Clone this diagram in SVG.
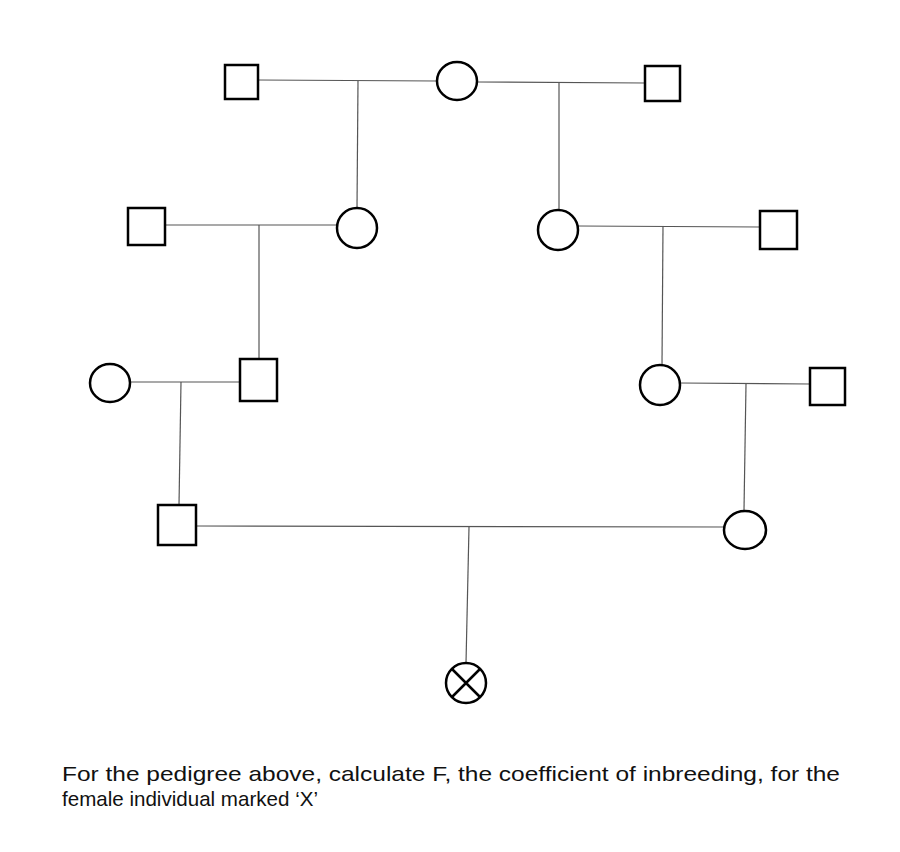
<svg xmlns="http://www.w3.org/2000/svg" width="900" height="852" viewBox="0 0 900 852">
<style>
.l{stroke:#555;stroke-width:1.2;fill:none}
.m{fill:#fff;stroke:#000;stroke-width:2.5}
.t{font-family:"Liberation Sans",Arial,sans-serif;font-size:21px;fill:#111}
</style>
<rect width="900" height="852" fill="#fff"/>
<g id="connectors">
<line class="l" x1="258" y1="80" x2="437" y2="81"/>
<line class="l" x1="477" y1="82" x2="645" y2="83"/>
<line class="l" x1="358" y1="81" x2="357" y2="208"/>
<line class="l" x1="559" y1="83" x2="559" y2="210"/>
<line class="l" x1="165" y1="225" x2="337" y2="225"/>
<line class="l" x1="578" y1="226" x2="760" y2="227"/>
<line class="l" x1="259" y1="225" x2="259" y2="358"/>
<line class="l" x1="663" y1="226" x2="662" y2="365"/>
<line class="l" x1="130" y1="382" x2="240" y2="382"/>
<line class="l" x1="680" y1="383" x2="810" y2="384"/>
<line class="l" x1="181" y1="382" x2="179" y2="505"/>
<line class="l" x1="746" y1="384" x2="744" y2="510"/>
<line class="l" x1="196" y1="526" x2="725" y2="527"/>
<line class="l" x1="469" y1="527" x2="466" y2="663"/>
</g>
<g id="n1"><rect class="m" x="225" y="65" width="33" height="34"/></g>
<g id="n2"><ellipse class="m" cx="457" cy="81" rx="20" ry="19"/></g>
<g id="n3"><rect class="m" x="645" y="66" width="35" height="35"/></g>
<g id="n4"><rect class="m" x="128" y="208" width="37" height="37"/></g>
<g id="n5"><ellipse class="m" cx="357" cy="228" rx="20" ry="20"/></g>
<g id="n6"><ellipse class="m" cx="558" cy="230" rx="20" ry="20"/></g>
<g id="n7"><rect class="m" x="760" y="211" width="37" height="38"/></g>
<g id="n8"><ellipse class="m" cx="110" cy="383" rx="20" ry="19"/></g>
<g id="n9"><rect class="m" x="240" y="359" width="37" height="42"/></g>
<g id="n10"><ellipse class="m" cx="660" cy="385" rx="20" ry="20"/></g>
<g id="n11"><rect class="m" x="810" y="368" width="35" height="37"/></g>
<g id="n12"><rect class="m" x="158" y="505" width="38" height="40"/></g>
<g id="n13"><ellipse class="m" cx="745" cy="530" rx="21" ry="19"/></g>
<g id="n14"><circle class="m" cx="466" cy="683" r="20"/><path d="M452 669L480 697M480 669L452 697" stroke="#000" stroke-width="2.5"/></g>
<text class="t" x="62" y="781" textLength="778" lengthAdjust="spacingAndGlyphs">For the pedigree above, calculate F, the coefficient of inbreeding, for the</text>
<text class="t" x="62" y="806" textLength="256" lengthAdjust="spacingAndGlyphs">female individual marked ‘X’</text>
</svg>
